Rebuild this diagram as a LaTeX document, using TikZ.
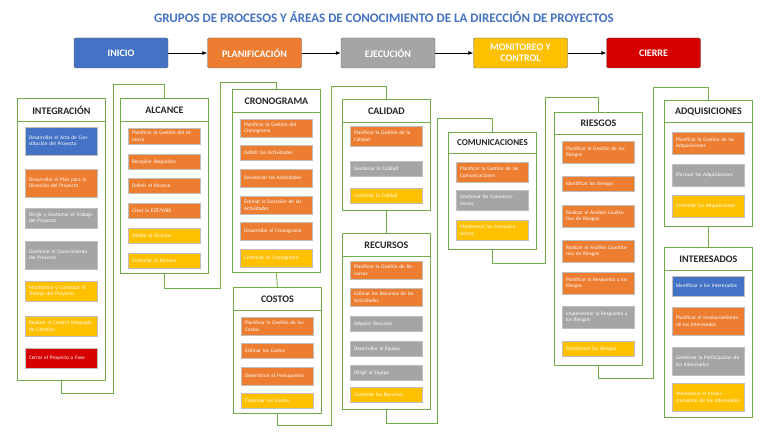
\documentclass[tikz,border=0pt]{standalone}
\usepackage{fontspec}
\setmainfont{Carlito}
\usetikzlibrary{arrows.meta}
\definecolor{cB}{HTML}{4472C4}
\definecolor{cO}{HTML}{ED7D31}
\definecolor{cG}{HTML}{A5A5A5}
\definecolor{cY}{HTML}{FFC000}
\definecolor{cR}{HTML}{D60000}
\definecolor{cL}{HTML}{70AD47}
\tikzset{
 phase/.style={draw=black!60,line width=0.4pt,rounded corners=1.5pt,minimum width=94,minimum height=30,text=white,font=\fontsize{10}{11}\selectfont\bfseries,align=center},
 area/.style={draw=cL,line width=0.8pt,fill=white,anchor=north west,inner sep=0pt},
 head/.style={draw=cL,line width=0.8pt,anchor=north west,inner sep=0pt,font=\fontsize{10}{11}\selectfont\bfseries,text=black!85},
 ib/.style={draw=black!25,line width=0.3pt,minimum width=72,text width=64,align=left,inner sep=2pt,text=white,font=\fontsize{5.3}{6.6}\selectfont},
 conn/.style={draw=cL,line width=0.8pt},
 arr/.style={-{Latex[length=5pt,width=4pt]},line width=0.8pt,black}
}
\newcommand\ibx[6]{\node[ib,fill=#4,minimum height=#3] (#1) at (#2) {#5#6};}
\newcommand\areabox[6]{% name, x, y1, y2, yh, title
 \node[area,minimum width=88,minimum height=#4-#3] (#1) at (#2,#3) {};
 \node[head,minimum width=88,minimum height=#5-#3] (#1h) at (#2,#3) {#6};}
\begin{document}
\begin{tikzpicture}[x=1pt,y=-1pt]
\useasboundingbox[fill=white] (0,0) rectangle (768,433);
\node[font=\fontsize{13}{15}\selectfont\bfseries,text=cB] (title) at (384,17) {GRUPOS DE PROCESOS Y ÁREAS DE CONOCIMIENTO DE LA DIRECCIÓN DE PROYECTOS};
\node[phase,fill=cB] (p1) at (121,53) {INICIO};
\node[phase,fill=cO] (p2) at (254.5,53) {PLANIFICACIÓN};
\node[phase,fill=cG] (p3) at (388,53) {EJECUCIÓN};
\node[phase,fill=cY] (p4) at (520.5,53) {MONITOREO Y\\CONTROL};
\node[phase,fill=cR] (p5) at (653.5,53) {CIERRE};
\draw[arr] (p1) -- (p2); \draw[arr] (p2) -- (p3); \draw[arr] (p3) -- (p4); \draw[arr] (p4) -- (p5);
\coordinate (k1) at (113,84); \coordinate (k2) at (220,82); \coordinate (k3) at (331,86);
\coordinate (k4) at (437,118); \coordinate (k5) at (545,97); \coordinate (k6) at (653,87);
\areabox{int}{17}{98}{380}{121}{INTEGRACIÓN}
\areabox{alc}{120}{98}{273}{121}{ALCANCE}
\areabox{cro}{232}{89}{272}{112}{CRONOGRAMA}
\areabox{cos}{233}{287}{413}{310}{COSTOS}
\areabox{cal}{342}{99}{210}{122}{CALIDAD}
\areabox{rec}{342}{233}{409}{256}{RECURSOS}
\areabox{com}{448}{132}{249}{153}{\fontsize{9}{10}\selectfont COMUNICACIONES}
\areabox{rie}{554}{112}{365}{134}{RIESGOS}
\areabox{adq}{664}{100}{226}{122}{ADQUISICIONES}
\areabox{intr}{664}{247}{417}{270}{INTERESADOS}
\draw[conn] (int.south) -- ++(0,13) -| (k1) -| (alch.north);
\draw[conn] (alc.south) -- ++(0,15) -| (k2) -| (croh.north);
\draw[conn] (cro.south) -- (cosh.north);
\draw[conn] (cos.south) -- ++(0,12) -| (k3) -| (calh.north);
\draw[conn] (cal.south) -- (rech.north);
\draw[conn] (rec.south) -- ++(0,14) -| (k4) -| (comh.north);
\draw[conn] (com.south) -- ++(0,14) -| (k5) -| (rieh.north);
\draw[conn] (rie.south) -- ++(0,13) -| (k6) -| (adqh.north);
\draw[conn] (adq.south) -- (intrh.north);
% integración
\ibx{i1}{61,141}{28}{cB}{Desarrollar el Acta de Constitución del Proyecto}{}
\ibx{i2}{61,183}{28}{cO}{Desarrollar el Plan para la Dirección del Proyecto}{}
\ibx{i3}{61,218}{20}{cG}{Dirigir y Gestionar el Trabajo del Proyecto}{}
\ibx{i4}{61,255}{28}{cG}{Gestionar el Conocimiento del Proyecto}{}
\ibx{i5}{61,291}{20}{cY}{Monitorear y Controlar el Trabajo del Proyecto}{}
\ibx{i6}{61,326}{20}{cY}{Realizar el Control Integrado de Cambios}{}
\ibx{i7}{61,358}{20}{cR}{Cerrar el Proyecto o Fase}{}
% alcance
\ibx{a1}{164,136}{16}{cO}{Planificar la Gestión del Alcance}{}
\ibx{a2}{164,162}{15}{cO}{Recopilar Requisitos}{}
\ibx{a3}{164,186}{15}{cO}{Definir el Alcance}{}
\ibx{a4}{164,211}{15}{cO}{Crear la EDT/WBS}{}
\ibx{a5}{164,236}{15}{cY}{Validar el Alcance}{}
\ibx{a6}{164,261}{15}{cY}{Controlar el Alcance}{}
% cronograma
\ibx{c1}{276,128}{18}{cO}{Planificar la Gestión del Cronograma}{}
\ibx{c2}{276,153}{15}{cO}{Definir las Actividades}{}
\ibx{c3}{276,178}{18}{cO}{Secuenciar las Actividades}{}
\ibx{c4}{276,205}{18}{cO}{Estimar la Duración de las Actividades}{}
\ibx{c5}{276,231}{18}{cO}{Desarrollar el Cronograma}{}
\ibx{c6}{276,258}{18}{cY}{Controlar el Cronograma}{}
% costos
\ibx{o1}{277,326}{18}{cO}{Planificar la Gestión de los Costos}{}
\ibx{o2}{277,351}{15}{cO}{Estimar los Costos}{}
\ibx{o3}{277,376}{18}{cO}{Determinar el Presupuesto}{}
\ibx{o4}{277,401}{15}{cY}{Controlar los Costos}{}
% calidad
\ibx{q1}{386,136}{20}{cO}{Planificar la Gestión de la Calidad}{}
\ibx{q2}{386,169}{15}{cG}{Gestionar la Calidad}{}
\ibx{q3}{386,196}{15}{cY}{Controlar la Calidad}{}
% recursos
\ibx{r1}{386,270}{18}{cO}{Planificar la Gestión de Recursos}{}
\ibx{r2}{386,297}{18}{cO}{Estimar los Recursos de las Actividades}{}
\ibx{r3}{386,324}{15}{cG}{Adquirir Recursos}{}
\ibx{r4}{386,349}{15}{cG}{Desarrollar el Equipo}{}
\ibx{r5}{386,373}{15}{cG}{Dirigir al Equipo}{}
\ibx{r6}{386,395}{15}{cY}{Controlar los Recursos}{}
% comunicaciones
\ibx{m1}{492,172}{20}{cO}{Planificar la Gestión de las Comunicaciones}{}
\ibx{m2}{492,200}{20}{cG}{Gestionar las Comunicaciones}{}
\ibx{m3}{492,230}{20}{cY}{Monitorear las Comunicaciones}{}
% riesgos
\ibx{s1}{598,152}{22}{cO}{Planificar la Gestión de los Riesgos}{}
\ibx{s2}{598,184}{15}{cO}{Identificar los Riesgos}{}
\ibx{s3}{598,216}{22}{cO}{Realizar el Análisis Cualitativo de Riesgos}{}
\ibx{s4}{598,251}{22}{cO}{Realizar el Análisis Cuantitativo de Riesgos}{}
\ibx{s5}{598,283}{22}{cO}{Planificar la Respuesta a los Riesgos}{}
\ibx{s6}{598,317}{22}{cG}{Implementar la Respuesta a los Riesgos}{}
\ibx{s7}{598,349}{15}{cY}{Monitorear los Riesgos}{}
% adquisiciones
\ibx{d1}{708,143}{22}{cO}{Planificar la Gestión de las Adquisiciones}{}
\ibx{d2}{708,175}{22}{cG}{Efectuar las Adquisiciones}{}
\ibx{d3}{708,206}{22}{cY}{Controlar las Adquisiciones}{}
% interesados
\ibx{n1}{708,286}{20}{cB}{Identificar a los Interesados}{}
\ibx{n2}{708,321}{28}{cO}{Planificar el Involucramiento de los Interesados}{}
\ibx{n3}{708,361}{28}{cG}{Gestionar la Participación de los Interesados}{}
\ibx{n4}{708,397}{28}{cY}{Monitorear el Involucramiento de los Interesados}{}
\end{tikzpicture}
\end{document}
